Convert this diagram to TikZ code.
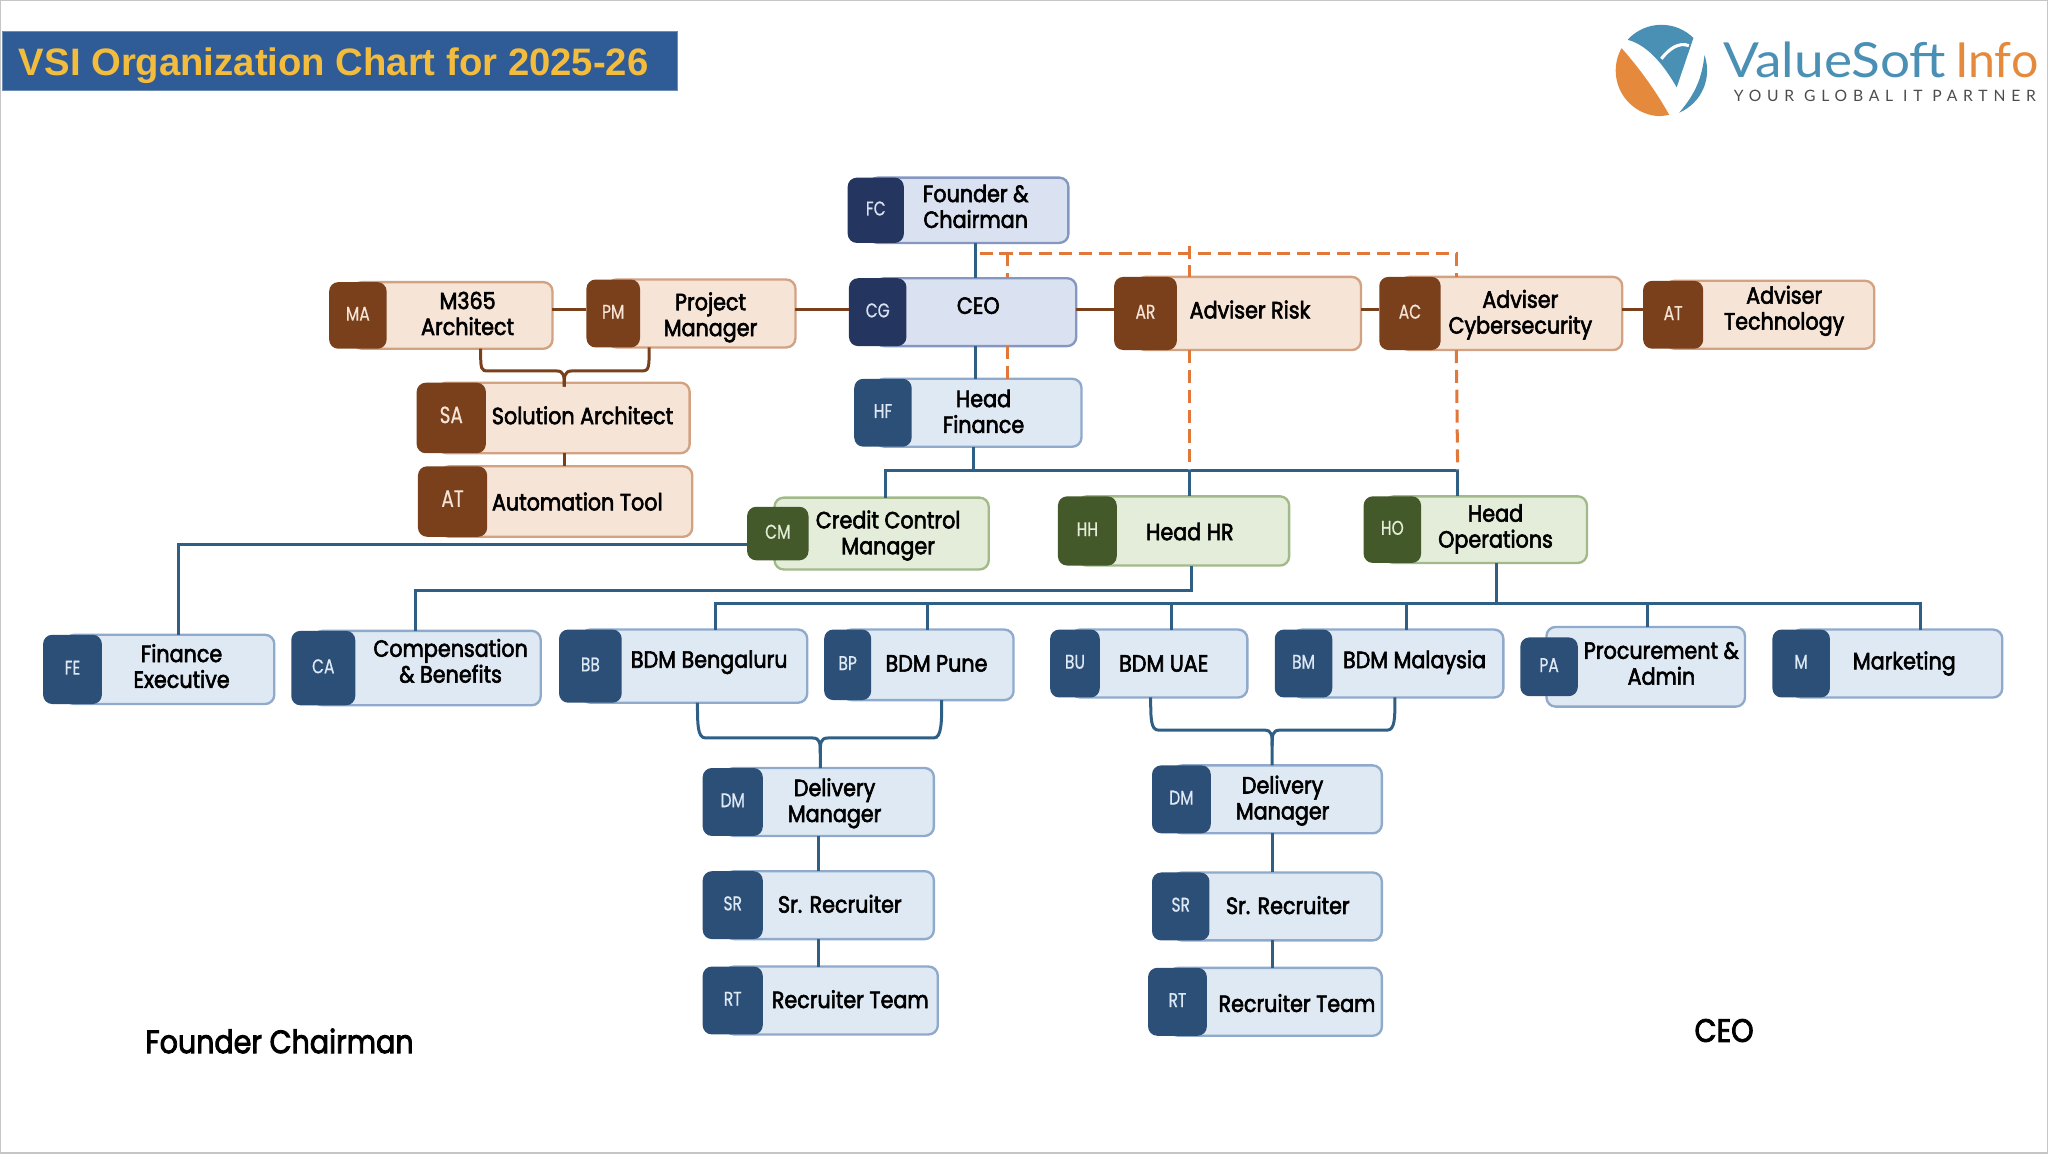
\documentclass[tikz,border=0pt]{standalone}
\usepackage{fontspec}
\usetikzlibrary{fit}
\setmainfont{Liberation Sans}
\newfontfamily\gothicfont[FakeStretch=0.88,FakeBold=2.5]{Poppins}
\newfontfamily\taglabelfont[FakeStretch=0.78,FakeBold=0.6]{Poppins}
\newfontfamily\logofont{Lato}
\newfontfamily\logowidefont[FakeStretch=1.1]{Lato}
\newfontfamily\logosmallfont[LetterSpace=37]{Lato}
\definecolor{navytag}{HTML}{24365F}
\definecolor{navyfill}{HTML}{DAE1F0}
\definecolor{navyrim}{HTML}{8497C1}
\definecolor{bluetag}{HTML}{2C4F78}
\definecolor{bluefill}{HTML}{DFE9F4}
\definecolor{bluerim}{HTML}{8FAACB}
\definecolor{browntag}{HTML}{7A401B}
\definecolor{brownfill}{HTML}{F6E4D6}
\definecolor{brownrim}{HTML}{D3A283}
\definecolor{greentag}{HTML}{43592A}
\definecolor{greenfill}{HTML}{E3EDD9}
\definecolor{greenrim}{HTML}{A2BA8A}
\definecolor{linkblue}{HTML}{2F5F85}
\definecolor{linkorange}{HTML}{E2773A}
\definecolor{titleblue}{HTML}{2F5C96}
\definecolor{titlegold}{HTML}{F4BC3C}
\definecolor{logoblue}{HTML}{4A90B4}
\definecolor{logoorange}{HTML}{E58A3C}
\tikzset{
cardbase/.style={rounded corners=3.5pt, inner sep=0pt, outer sep=0pt}, % shared by bodies and tags
navy body/.style={cardbase, draw=navyrim, fill=navyfill, line width=.9pt},
navy tag/.style={cardbase, fill=navytag, text=navyfill},
blue body/.style={cardbase, draw=bluerim, fill=bluefill, line width=.9pt},
blue tag/.style={cardbase, fill=bluetag, text=bluefill},
brown body/.style={cardbase, draw=brownrim, fill=brownfill, line width=.9pt},
brown tag/.style={cardbase, fill=browntag, text=brownfill},
green body/.style={cardbase, draw=greenrim, fill=greenfill, line width=.9pt},
green tag/.style={cardbase, fill=greentag, text=greenfill},
tagtext/.style={font=\taglabelfont\fontsize{7.6}{8}\selectfont},
cardtext/.style={align=center, inner sep=0pt, font=\gothicfont\fontsize{9}{9.9}\selectfont},
bigtext/.style={inner sep=0pt, font=\gothicfont\fontsize{12.4}{14}\selectfont},
blueline/.style={draw=linkblue, line width=1.15pt},
brownline/.style={draw=browntag, line width=1.15pt},
orangeline/.style={draw=linkorange, line width=1.15pt, dash pattern=on 5pt off 2.6pt},
}
% style, name, tag text, body corners, tag corners, text position, text
\newcommand{\orgcard}[9]{
    \node[#1 body, fit={(#4)(#5)}] (#2) {};
    \node[#1 tag, tagtext, fit={(#6)(#7)}] (#2-tag) {\raisebox{-4pt}{#3}};
    \node[cardtext] (#2-text) at (#8) {#9};
}
% style, left card, left x, right card, right x, lower card, stem x, level
\newcommand{\orgfork}[8]{
    \coordinate (#2-leg) at (#3,#8);
    \coordinate (#4-leg) at (#5,#8);
    \coordinate (#6-stem) at (#7,#8);
    \draw[#1] (#2-leg |- #2.south) .. controls ([yshift=-8pt]#2-leg |- #2.south) and (#2-leg) .. ([xshift=3pt]#2-leg)
        -- ([xshift=-3pt]#6-stem) .. controls (#6-stem) and ([yshift=-2pt]#6-stem) .. ([yshift=-6pt]#6-stem)
        -- (#6-stem |- #6.north);
    \draw[#1] (#4-leg |- #4.south) .. controls ([yshift=-8pt]#4-leg |- #4.south) and (#4-leg) .. ([xshift=-3pt]#4-leg)
        -- ([xshift=3pt]#6-stem) .. controls (#6-stem) and ([yshift=-2pt]#6-stem) .. ([yshift=-6pt]#6-stem);
}

\begin{document}
\begin{tikzpicture}[x=0.5pt, y=-0.5pt]
    \useasboundingbox (0,0) rectangle (1568,882.8);
    \draw[gray!45, line width=.8pt] (0,0) rectangle (1568,882.8);

    \node[fill=titleblue, draw=titleblue!70, inner sep=0pt, minimum width=258.5pt, minimum height=22.5pt,
          text height=12pt, text depth=1pt, text=titlegold, font=\fontsize{14.65}{18}\selectfont\bfseries] (title) at (260.5,46.5) {VSI Organization Chart for 2025-26\hspace{5pt}\null};

    % logo
    \begin{scope}
        \clip (1272,54) circle (17.5pt);
        \fill[logoorange] (1241.6,37) .. controls (1255,52) and (1268,70) .. (1278,88) -- (1230,95) -- (1225,37) -- cycle;
        \fill[logoblue] (1246.7,30.6) .. controls (1262,35) and (1274,50) .. (1283.7,66.9) -- (1296.4,29.4) -- (1312,10) -- (1230,10) -- cycle;
        \fill[logoblue] (1305,42) .. controls (1303,60) and (1298,72) .. (1285,87) -- (1312,92) -- (1316,40) -- cycle;
        \draw[white, line width=1.2pt] (1272,45) .. controls (1278,37) and (1286,32) .. (1293,35);
    \end{scope}
    \node[anchor=base west, inner sep=0pt, text=logoblue, font=\logowidefont\fontsize{18.5}{20}\selectfont] (logoname) at (1319,59) {ValueSoft};
    \node[anchor=base east, inner sep=0pt, text=logoorange, font=\logofont\fontsize{18.5}{20}\selectfont] (logoinfo) at (1561,59) {Info};
    \node[anchor=base west, inner sep=0pt, text=black!70, font=\logosmallfont\fontsize{6}{7}\selectfont] (logotag) at (1327,78) {YOUR GLOBAL IT PARTNER};

    % top row
    \orgcard{navy}{fc}{FC}{665,136}{818,186}{649,136}{692,186}{747,158}{Founder \&\\Chairman}
    \orgcard{navy}{cg}{CG}{670,213}{824,265}{650,213}{694,265}{749,234}{CEO}
    \orgcard{blue}{hf}{HF}{670,290}{828,342}{654,290}{698,342}{753,315}{Head\\Finance}
    \orgcard{brown}{ma}{MA}{270,216}{423,267}{252,216}{296,267}{358,240}{M365\\Architect}
    \orgcard{brown}{pm}{PM}{465,214}{609,266}{449,214}{490,266}{544,243}{Project\\Manager}
    \orgcard{brown}{sa}{\fontsize{9}{10}\selectfont SA}{335,293}{528,347}{319,293}{372,347}{446,318}{Solution Architect}
    \orgcard{brown}{att}{\fontsize{9}{10}\selectfont AT}{337,357}{530,411}{320,357}{373,411}{442,384}{Automation Tool}
    \orgcard{brown}{ar}{AR}{870,212}{1042,268}{853,212}{901,268}{957,237}{Adviser Risk}
    \orgcard{brown}{ac}{AC}{1072,212}{1242,268}{1056,212}{1103,268}{1164,241}{Adviser\\Cybersecurity}
    \orgcard{brown}{atc}{AT}{1275,215}{1435,267}{1258,215}{1304,267}{1366,238}{Adviser\\Technology}

    % heads
    \orgcard{green}{cm}{CM}{593,381}{757,436}{572,388}{619,429}{680,410}{Credit Control\\Manager}
    \orgcard{green}{hh}{HH}{825,380}{987,433}{810,380}{855,433}{911,407}{Head HR}
    \orgcard{green}{ho}{HO}{1060,380}{1215,431}{1044,380}{1088,431}{1145,405}{Head\\Operations}

    % third row
    \orgcard{blue}{fe}{FE}{50,486}{210,539}{33,486}{78,539}{139,510}{Finance\\Executive}
    \orgcard{blue}{ca}{CA}{240,483}{414,540}{223,483}{272,540}{345,506}{Compensation\\\& Benefits}
    \orgcard{blue}{bb}{BB}{445,482}{618,538}{428,482}{476,538}{543,507}{BDM Bengaluru}
    \orgcard{blue}{bp}{BP}{645,482}{776,536}{631,482}{667,536}{717,508}{BDM Pune}
    \orgcard{blue}{bu}{BU}{820,482}{955,534}{804,482}{842,534}{891,508}{BDM UAE}
    \orgcard{blue}{bm}{BM}{990,482}{1151,534}{976,482}{1020,534}{1083,507}{BDM Malaysia}
    \orgcard{blue}{pa}{PA}{1184,480}{1336,541}{1164,488}{1208,533}{1272,508}{Procurement \&\\Admin}
    \orgcard{blue}{mk}{M}{1372,482}{1533,534}{1357,482}{1401,534}{1458,508}{Marketing}

    % delivery columns
    \orgcard{blue}{dma}{DM}{555,588}{715,640}{538,588}{584,640}{639,615}{Delivery\\Manager}
    \orgcard{blue}{sra}{SR}{555,667}{715,719}{538,667}{584,719}{643,692}{Sr. Recruiter}
    \orgcard{blue}{rta}{RT}{555,740}{718,792}{538,740}{584,792}{651,765}{Recruiter Team}
    \orgcard{blue}{dmb}{DM}{898,586}{1058,638}{882,586}{927,638}{982,613}{Delivery\\Manager}
    \orgcard{blue}{srb}{SR}{898,668}{1058,720}{882,668}{926,720}{986,693}{Sr. Recruiter}
    \orgcard{blue}{rtb}{RT}{895,741}{1058,793}{879,741}{924,793}{993,768}{Recruiter Team}

    \node[bigtext] (founder) at (214,797) {Founder Chairman};
    \node[bigtext] (ceolabel) at (1320,789) {CEO};

    % solid blue links
    \coordinate (spine) at (747,200);
    \coordinate (trunk) at (745,360);
    \coordinate (trunkW) at (678,360);
    \coordinate (trunkE) at (1116,360);
    \coordinate (trunkH) at (911,360);
    \draw[blueline] (spine |- fc.south) -- (spine |- cg.north);
    \draw[blueline] (spine |- cg.south) -- (spine |- hf.north);
    \draw[blueline] (trunk |- hf.south) -- (trunk);
    \draw[blueline] (trunkW |- cm.north) -- (trunkW) -- (trunkE) -- (trunkE |- ho.north);
    \draw[blueline] (trunkH) -- (trunkH |- hh.north);

    \coordinate (feturn) at (137,417);
    \draw[blueline] (feturn -| cm-tag.west) -- (feturn) -- (feturn |- fe.north);
    \coordinate (hrdrop) at (912,452);
    \coordinate (caturn) at (318,452);
    \draw[blueline] (hrdrop |- hh.south) -- (hrdrop) -- (caturn) -- (caturn |- ca.north);

    \coordinate (opsdrop) at (1146,462);
    \coordinate (busW) at (548,462);
    \coordinate (busE) at (1470,462);
    \coordinate (busBP) at (710,462);
    \coordinate (busBU) at (897,462);
    \coordinate (busBM) at (1077,462);
    \coordinate (busPA) at (1261,462);
    \draw[blueline] (opsdrop |- ho.south) -- (opsdrop);
    \draw[blueline] (busW |- bb.north) -- (busW) -- (busE) -- (busE |- mk.north);
    \draw[blueline] (busBP) -- (busBP |- bp.north);
    \draw[blueline] (busBU) -- (busBU |- bu.north);
    \draw[blueline] (busBM) -- (busBM |- bm.north);
    \draw[blueline] (busPA) -- (busPA |- pa.north);

    \orgfork{blueline}{bb}{534}{bp}{721}{dma}{628}{565}
    \orgfork{blueline}{bu}{881}{bm}{1068}{dmb}{974}{559}
    \coordinate (cola) at (627,650);
    \coordinate (colb) at (974,650);
    \draw[blueline] (cola |- dma.south) -- (cola |- sra.north);
    \draw[blueline] (cola |- sra.south) -- (cola |- rta.north);
    \draw[blueline] (colb |- dmb.south) -- (colb |- srb.north);
    \draw[blueline] (colb |- srb.south) -- (colb |- rtb.north);

    % solid brown links
    \coordinate (row) at (0,237);
    \draw[brownline] (row -| ma.east) -- (row -| pm-tag.west);
    \draw[brownline] (row -| pm.east) -- (row -| cg-tag.west);
    \draw[brownline] (row -| cg.east) -- (row -| ar-tag.west);
    \draw[brownline] (row -| ar.east) -- (row -| ac-tag.west);
    \draw[brownline] (row -| ac.east) -- (row -| atc-tag.west);
    \orgfork{brownline}{ma}{368}{pm}{497}{sa}{432}{284}
    \coordinate (sacol) at (432,350);
    \draw[brownline] (sacol |- sa.south) -- (sacol |- att.north);

    % dashed adviser links
    \coordinate (dashW) at (750,194);
    \coordinate (dashA) at (771,194);
    \coordinate (dashB) at (911,188);
    \coordinate (dashC) at (1115,194);
    \draw[orangeline] (dashW) -- (dashC) -- (dashC |- ac.north);
    \draw[orangeline] (dashC |- ac.south) -- (trunkE);
    \draw[orangeline] (dashA) -- (dashA |- cg.north);
    \draw[orangeline] (dashA |- cg.south) -- (dashA |- hf.north);
    \draw[orangeline] (dashB) -- (dashB |- ar.north);
    \draw[orangeline] (dashB |- ar.south) -- (trunkH);
\end{tikzpicture}
\end{document}
